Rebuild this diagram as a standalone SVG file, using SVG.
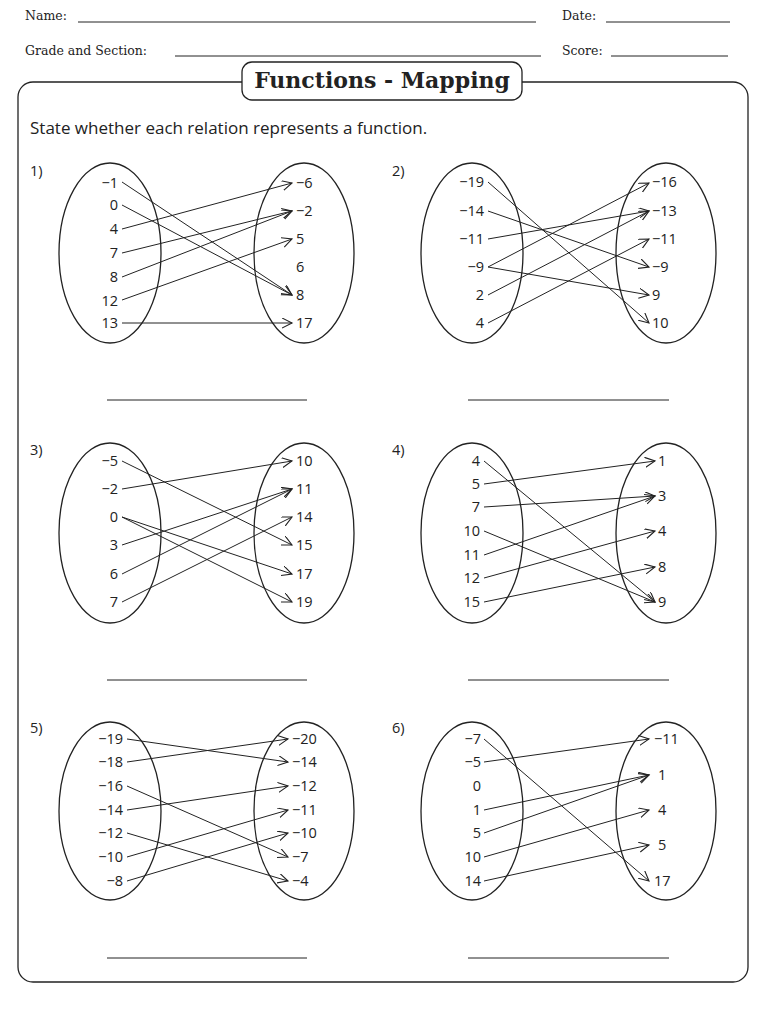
<svg xmlns="http://www.w3.org/2000/svg" width="768" height="1024" viewBox="0 0 768 1024">
<style>
text{font-family:"Open Sans","Liberation Sans",sans-serif;fill:#222}
.n{font-size:14.5px}
.l{text-anchor:end}
.h{font-size:14px;font-family:"DejaVu Serif","Liberation Serif",serif}
.e{fill:none;stroke:#222;stroke-width:1.3}
.c line{stroke:#222;stroke-width:1;marker-end:url(#a)}
.ans{stroke:#222;stroke-width:1}
</style>
<defs><marker id="a" markerUnits="userSpaceOnUse" markerWidth="12" markerHeight="12" refX="10" refY="5" orient="auto"><path d="M0,0 L10,5 L0,10" fill="none" stroke="#222" stroke-width="1.1"/></marker></defs>
<rect width="768" height="1024" fill="#fff"/>
<g id="header">
<text class="h" x="25" y="20" style="font-size:12.5px">Name:</text><line x1="78" y1="22" x2="536" y2="22" class="ans"/>
<text class="h" x="562" y="20" style="font-size:12.5px">Date:</text><line x1="606" y1="22" x2="730" y2="22" class="ans"/>
<text class="h" x="25" y="55" style="font-size:12.5px">Grade and Section:</text><line x1="175" y1="56" x2="541" y2="56" class="ans"/>
<text class="h" x="562" y="55" style="font-size:12.5px">Score:</text><line x1="611" y1="56" x2="728" y2="56" class="ans"/>
</g>
<rect x="18" y="82" width="730" height="900" rx="15" fill="none" stroke="#222" stroke-width="1.3"/>
<g id="title"><rect x="242" y="62" width="280" height="38" rx="10" fill="#fff" stroke="#222" stroke-width="1.3"/>
<text x="382" y="88" text-anchor="middle" style="font-family:'DejaVu Serif','Liberation Serif',serif;font-weight:bold;font-size:22px">Functions - Mapping</text></g>
<text x="30" y="134" style="font-size:17px">State whether each relation represents a function.</text>

<g id="p1">
<text class="n" x="30" y="176">1)</text>
<ellipse class="e" cx="110" cy="253" rx="51" ry="90"/><ellipse class="e" cx="304" cy="253" rx="50" ry="90"/>
<g class="n l"><text x="118" y="188">−1</text><text x="118" y="210">0</text><text x="118" y="234">4</text><text x="118" y="258">7</text><text x="118" y="282">8</text><text x="118" y="306">12</text><text x="118" y="328">13</text></g>
<g class="n"><text x="296" y="188">−6</text><text x="296" y="216">−2</text><text x="296" y="244">5</text><text x="296" y="272">6</text><text x="296" y="300">8</text><text x="296" y="328">17</text></g>
<line x1="107" y1="400" x2="307" y2="400" class="ans"/>
</g>
<g id="p2">
<text class="n" x="392" y="176">2)</text>
<ellipse class="e" cx="472" cy="253" rx="51" ry="90"/><ellipse class="e" cx="666" cy="253" rx="50" ry="90"/>
<g class="n l"><text x="484" y="187">−19</text><text x="484" y="216">−14</text><text x="484" y="244">−11</text><text x="484" y="272">−9</text><text x="484" y="300">2</text><text x="484" y="328">4</text></g>
<g class="n"><text x="652" y="187">−16</text><text x="652" y="216">−13</text><text x="652" y="244">−11</text><text x="652" y="272">−9</text><text x="652" y="300">9</text><text x="652" y="328">10</text></g>
<line x1="468" y1="400" x2="669" y2="400" class="ans"/>
</g>
<g id="p3">
<text class="n" x="30" y="455">3)</text>
<ellipse class="e" cx="110" cy="533" rx="51" ry="90"/><ellipse class="e" cx="304" cy="533" rx="50" ry="90"/>
<g class="n l"><text x="118" y="466">−5</text><text x="118" y="494">−2</text><text x="118" y="522">0</text><text x="118" y="550">3</text><text x="118" y="579">6</text><text x="118" y="607">7</text></g>
<g class="n"><text x="296" y="466">10</text><text x="296" y="494">11</text><text x="296" y="522">14</text><text x="296" y="550">15</text><text x="296" y="579">17</text><text x="296" y="607">19</text></g>
<line x1="107" y1="680" x2="307" y2="680" class="ans"/>
</g>
<g id="p4">
<text class="n" x="392" y="455">4)</text>
<ellipse class="e" cx="472" cy="533" rx="51" ry="90"/><ellipse class="e" cx="666" cy="533" rx="50" ry="90"/>
<g class="n l"><text x="480" y="466">4</text><text x="480" y="489">5</text><text x="480" y="512">7</text><text x="480" y="536">10</text><text x="480" y="560">11</text><text x="480" y="583">12</text><text x="480" y="607">15</text></g>
<g class="n"><text x="658" y="466">1</text><text x="658" y="501">3</text><text x="658" y="536">4</text><text x="658" y="572">8</text><text x="658" y="607">9</text></g>
<line x1="468" y1="680" x2="669" y2="680" class="ans"/>
</g>
<g id="p5">
<text class="n" x="30" y="733">5)</text>
<ellipse class="e" cx="110" cy="811" rx="51" ry="89"/><ellipse class="e" cx="304" cy="811" rx="50" ry="89"/>
<g class="n l"><text x="123" y="744">−19</text><text x="123" y="767">−18</text><text x="123" y="791">−16</text><text x="123" y="815">−14</text><text x="123" y="838">−12</text><text x="123" y="862">−10</text><text x="123" y="886">−8</text></g>
<g class="n"><text x="292" y="744">−20</text><text x="292" y="767">−14</text><text x="292" y="791">−12</text><text x="292" y="815">−11</text><text x="292" y="838">−10</text><text x="292" y="862">−7</text><text x="292" y="886">−4</text></g>
<line x1="107" y1="958" x2="307" y2="958" class="ans" stroke-width="1.6"/>
</g>
<g id="p6">
<text class="n" x="392" y="733">6)</text>
<ellipse class="e" cx="472" cy="811" rx="51" ry="89"/><ellipse class="e" cx="666" cy="811" rx="50" ry="89"/>
<g class="n l"><text x="481" y="744">−7</text><text x="481" y="767">−5</text><text x="481" y="791">0</text><text x="481" y="815">1</text><text x="481" y="838">5</text><text x="481" y="862">10</text><text x="481" y="886">14</text></g>
<g class="n"><text x="654" y="744">−11</text><text x="658" y="780">1</text><text x="658" y="815">4</text><text x="658" y="850">5</text><text x="654" y="886">17</text></g>
<line x1="468" y1="958" x2="669" y2="958" class="ans" stroke-width="1.6"/>
</g>

<g id="connectors" class="c">
<line x1="122" y1="182" x2="292" y2="295"/><line x1="122" y1="205" x2="292" y2="295"/><line x1="122" y1="229" x2="292" y2="183"/><line x1="122" y1="253" x2="292" y2="211"/><line x1="122" y1="277" x2="292" y2="211"/><line x1="122" y1="300" x2="292" y2="239"/><line x1="122" y1="323" x2="292" y2="323"/>
<line x1="488" y1="182" x2="649" y2="323"/><line x1="488" y1="211" x2="649" y2="267"/><line x1="488" y1="239" x2="649" y2="211"/><line x1="488" y1="267" x2="649" y2="183"/><line x1="488" y1="267" x2="649" y2="295"/><line x1="488" y1="295" x2="649" y2="211"/><line x1="488" y1="323" x2="649" y2="239"/>
<line x1="122" y1="461" x2="292" y2="545"/><line x1="122" y1="489" x2="292" y2="461"/><line x1="122" y1="517" x2="292" y2="574"/><line x1="122" y1="517" x2="292" y2="602"/><line x1="122" y1="545" x2="292" y2="489"/><line x1="122" y1="574" x2="292" y2="489"/><line x1="122" y1="602" x2="292" y2="517"/>
<line x1="484" y1="461" x2="655" y2="602"/><line x1="484" y1="484" x2="655" y2="461"/><line x1="484" y1="507" x2="655" y2="496"/><line x1="484" y1="531" x2="655" y2="602"/><line x1="484" y1="555" x2="655" y2="496"/><line x1="484" y1="578" x2="655" y2="531"/><line x1="484" y1="602" x2="655" y2="567"/>
<line x1="127" y1="739" x2="288" y2="762"/><line x1="127" y1="762" x2="288" y2="739"/><line x1="127" y1="786" x2="288" y2="857"/><line x1="127" y1="810" x2="288" y2="786"/><line x1="127" y1="833" x2="288" y2="881"/><line x1="127" y1="857" x2="288" y2="810"/><line x1="127" y1="881" x2="288" y2="833"/>
<line x1="484" y1="739" x2="649" y2="881"/><line x1="484" y1="762" x2="649" y2="739"/><line x1="484" y1="810" x2="649" y2="775"/><line x1="484" y1="833" x2="649" y2="775"/><line x1="484" y1="857" x2="649" y2="810"/><line x1="484" y1="881" x2="649" y2="845"/>
</g>
</svg>
